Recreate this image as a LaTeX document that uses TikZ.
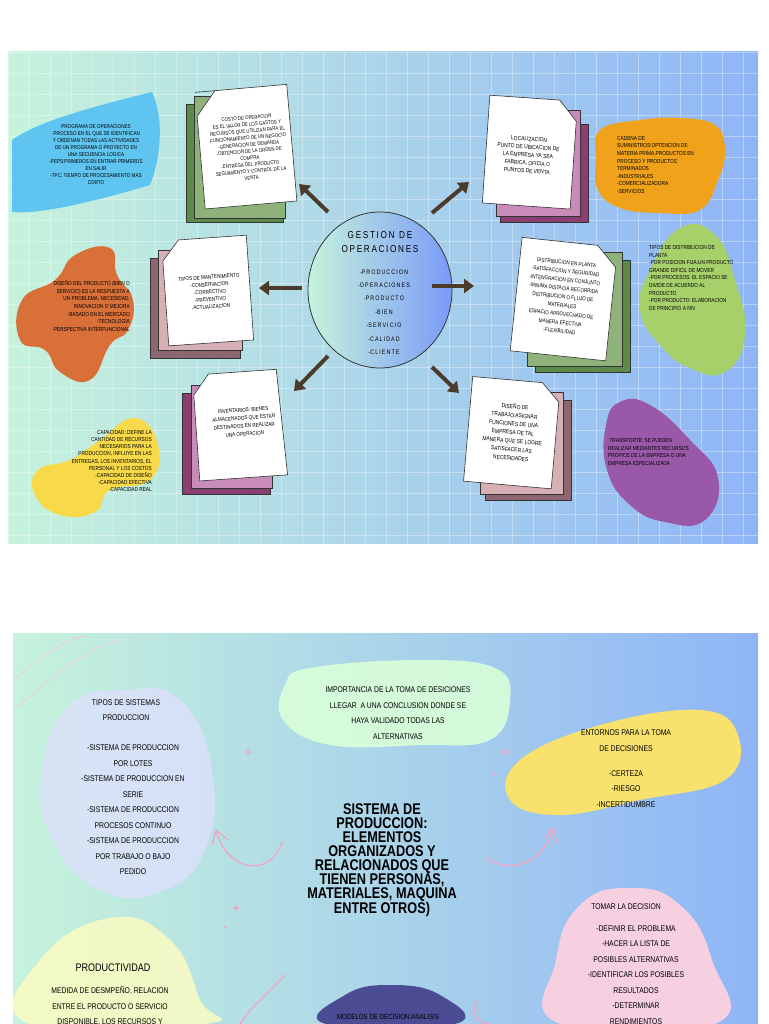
\documentclass[tikz,border=0pt]{standalone}
\usepackage{fontspec}
\setmainfont{Liberation Sans}[FakeStretch=0.82]
\usetikzlibrary{arrows.meta,shapes.geometric}
\definecolor{bgL}{HTML}{C6F3DC}
\definecolor{bgR}{HTML}{8FB5F7}
\definecolor{arr}{HTML}{4A3B2A}
\definecolor{dg}{HTML}{5B8A4A}
\definecolor{lg}{HTML}{8FB27A}
\definecolor{pk}{HTML}{C98BB8}
\definecolor{dp}{HTML}{8A3E72}
\definecolor{mv}{HTML}{8C6670}
\definecolor{lp}{HTML}{D6B0B4}
\definecolor{blb}{HTML}{5FC4F0}
\definecolor{org}{HTML}{D9703A}
\definecolor{yel}{HTML}{F7D949}
\definecolor{org2}{HTML}{F0A21A}
\definecolor{grn}{HTML}{A6D06A}
\definecolor{pur}{HTML}{9A58A8}
\definecolor{pk2}{HTML}{EEA7C8}
\tikzset{
  x=1pt,y=-1pt,
  tx/.style={font=\fontsize{5.6}{7.4}\selectfont,align=center,inner sep=0},
  bt/.style={font=\fontsize{8.3}{15.5}\selectfont,align=center,inner sep=0},
  sheet/.style={draw=black!80,line width=0.6pt},
  bigarrow/.style={draw=arr,line width=4pt,-{Triangle[length=10pt,width=14pt]}},
  deco/.style={draw=pk2,line width=1.4pt,line cap=round}
}
\begin{document}
\begin{tikzpicture}
\useasboundingbox (0,0) rectangle (768,1024);
\fill[white] (0,0) rectangle (768,1024);
% panel 1
\shade[left color=bgL,right color=bgR] (8,52) rectangle (758,543);
\foreach \i in {0,...,35} \draw[white,opacity=0.35,line width=0.5pt] (8+21*\i,52) -- (8+21*\i,543);
\foreach \j in {0,...,23} \draw[white,opacity=0.35,line width=0.5pt] (8,52+21*\j) -- (758,52+21*\j);
% blobs
\fill[blb] (12,140) .. controls (40,120) and (100,105) .. (152,92) .. controls (165,120) and (160,160) .. (150,185) .. controls (100,200) and (40,215) .. (12,212) -- cycle;
\fill[org] plot[smooth cycle,tension=0.8] coordinates {(75,255) (110,248) (117,275) (133,300) (128,330) (110,345) (90,380) (60,372) (45,350) (20,340) (22,300) (55,280)};
\fill[yel] plot[smooth cycle,tension=0.8] coordinates {(100,440) (135,418) (158,445) (150,480) (110,490) (95,512) (60,515) (35,495) (38,470) (70,460)};
\fill[org2] plot[smooth cycle,tension=0.7] coordinates {(600,130) (640,120) (680,118) (715,125) (725,150) (718,180) (700,210) (660,213) (620,208) (598,190) (596,160)};
\fill[grn] plot[smooth cycle,tension=0.8] coordinates {(680,228) (715,235) (735,280) (745,335) (725,372) (690,368) (660,345) (640,310) (650,270)};
\fill[pur] plot[smooth cycle,tension=0.8] coordinates {(620,402) (650,405) (690,440) (718,478) (705,520) (665,522) (630,505) (607,470) (606,425)};
% center ellipse
\shade[left color=bgL,right color=bgR!85!blue,draw=black!80,line width=0.8pt] (380,290) ellipse [x radius=72,y radius=78];
\node (center) at (380,290) {};
\node[font=\fontsize{10}{14}\selectfont,align=center,inner sep=0] at (380,242) {G\,E\,S\,T\,I\,O\,N \ D\,E\\O\,P\,E\,R\,A\,C\,I\,O\,N\,E\,S};
\node[font=\fontsize{6.5}{13.4}\selectfont,align=center,inner sep=0] at (384,312) {-P\,R\,O\,D\,U\,C\,C\,I\,O\,N\\-O\,P\,E\,R\,A\,C\,I\,O\,N\,E\,S\\-P\,R\,O\,D\,U\,C\,T\,O\\-B\,I\,E\,N\\-S\,E\,R\,V\,I\,C\,I\,O\\-C\,A\,L\,I\,D\,A\,D\\-C\,L\,I\,E\,N\,T\,E};
% paper stacks
\fill[dg,sheet] (186,104) rectangle (283,222);
\fill[lg,sheet] (194,96) rectangle (285,218);
\fill[white,sheet,rotate around={5:(248,147)}] (200,88) -- (292,88) -- (292,205) -- (200,205) -- (200,112) -- (220,88);
\node[tx,font=\fontsize{5.3}{6.7}\selectfont,rotate=5] (p1) at (249,148) {COSTO DE OPERACION\\ES EL VALOR DE LOS GASTOS Y\\RECURSOS QUE UTILIZAN PARA EL\\FUNCIONAMIENTO DE UN NEGOCIO\\-GENERACION DE DEMANDA\\-OBTENCION DE LA ORDEN DE\\COMPRA\\-ENTREGA DEL PRODUCTO\\SEGUIMIENTO Y CONTROL DE LA\\VENTA};
\fill[dp,sheet] (500,124) rectangle (588,222);
\fill[pk,sheet] (496,110) rectangle (580,216);
\fill[white,sheet,rotate around={-4:(528,152)}] (486,98) -- (556,98) -- (574,118) -- (574,206) -- (486,206) -- cycle;
\node[tx,font=\fontsize{6}{8}\selectfont,rotate=-4] (p2) at (528,155) {LOCALIZACION\\PUNTO DE UBICACION DE\\LA EMPRESA YA SEA\\FABRICA, OFICIA O\\PUNTOS DE VENTA};
\fill[mv,sheet] (150,258) rectangle (240,358);
\fill[lp,sheet] (158,250) rectangle (242,350);
\fill[white,sheet,rotate around={4:(208,290)}] (182,238) -- (250,238) -- (250,343) -- (165,343) -- (165,258) -- cycle;
\node[tx,rotate=4] (p3) at (210,292) {TIPOS DE MANTENIMIENTO\\-CONSERVACION\\-CORRECTIVO\\-PREVENTIVO\\-ACTUALIZACION};
\fill[dg,sheet] (535,260) rectangle (630,372);
\fill[lg,sheet] (527,252) rectangle (622,366);
\fill[white,sheet,rotate around={-6:(563,298)}] (516,242) -- (592,242) -- (612,262) -- (612,356) -- (516,356) -- cycle;
\node[tx,font=\fontsize{5.6}{8.6}\selectfont,rotate=-6] (p4) at (563,297) {DISTRIBUCION EN PLANTA\\-SATISFACCION Y SEGURIDAD\\-INTENGRACION EN CONJUNTO\\-MINIMA DISTACIA RECORRIDA\\DISTRIBUCION O FLUJO DE\\MATERIALES\\ESPACIO APROVECHADO DE\\MANERA EFECTIVA\\-FLEXIBILIDAD};
\fill[dp,sheet] (182,393) rectangle (270,494);
\fill[pk,sheet] (191,385) rectangle (272,488);
\fill[white,sheet,rotate around={4:(240,425)}] (212,372) -- (280,372) -- (284,478) -- (196,478) -- (196,392) -- cycle;
\node[tx,font=\fontsize{5.6}{8}\selectfont,rotate=4] (p5) at (244,422) {INVENTARIOS: BIENES\\ALMACENADOS QUE ESTAN\\DESTINADOS EN REALIZAR\\UNA OPERACION};
\fill[mv,sheet] (485,400) rectangle (571,500);
\fill[lp,sheet] (480,392) rectangle (563,494);
\fill[white,sheet,rotate around={-5:(510,432)}] (468,380) -- (538,380) -- (556,398) -- (556,485) -- (468,485) -- cycle;
\node[tx,font=\fontsize{6}{8.6}\selectfont,rotate=-5] (p6) at (513,432) {DISEÑO DE\\TRABAJO:ASIGNAR\\FUNCIONES DE UNA\\EMPRESA DE TAL\\MANERA QUE SE LOGRE\\SATISFACER LAS\\NECESIDADES};
% arrows
\coordinate (a1s) at (328,212); \coordinate (a1e) at (299,184);
\coordinate (a2s) at (432,213); \coordinate (a2e) at (469,182);
\coordinate (a3s) at (302,288); \coordinate (a3e) at (259,288);
\coordinate (a4s) at (432,286); \coordinate (a4e) at (474,286);
\coordinate (a5s) at (328,356); \coordinate (a5e) at (294,391);
\coordinate (a6s) at (432,367); \coordinate (a6e) at (459,393);
\foreach \s/\e in {a1s/a1e,a2s/a2e,a3s/a3e,a4s/a4e,a5s/a5e,a6s/a6e} \draw[bigarrow] (\s) -- (\e);
% blob texts
\node[tx,font=\fontsize{5.6}{7}\selectfont] (t1) at (96,155) {PROGRAMA DE OPERACIONES\\-PROCESO EN EL QUE SE IDENTIFICAN\\Y ORDENAN TODAS LAS ACTIVIDADES\\DE UN PROGRAMA O PROYECTO EN\\UNA SECUENCIA LOGICA\\-PEPS:PRIMEROS EN ENTRAR PRIMEROS\\EN SALIR\\-TPC: TIEMPO DE PROCESAMIENTO MAS\\CORTO};
\node[tx,font=\fontsize{5.8}{7.6}\selectfont,align=right,anchor=east] (t2) at (130,306) {DISEÑO DEL PRODUCTO (BIEN O\\SERVICIO) ES LA RESPUESTA A\\UN PROBLEMA, NECESIDAD,\\INNOVACION O MEJORA\\-BASADO EN EL MERCADO\\-TECNOLOGIA\\-PERSPECTIVA INTERFUNCIONAL};
\node[tx,font=\fontsize{5.8}{7.2}\selectfont,align=right,anchor=east] (t3) at (152,461) {CAPACIDAD: DEFINE LA\\CANTIDAD DE RECURSOS\\NECESARIOS PARA LA\\PRODUCCION, INFLUYE EN LAS\\ENTREGAS, LOS INVENTARIOS, EL\\PERSONAL Y LOS COSTOS\\-CAPACIDAD DE DISEÑO\\-CAPACIDAD EFECTIVA\\-CAPACIDAD REAL};
\node[tx,font=\fontsize{5.8}{7.6}\selectfont,align=left,anchor=west] (t4) at (617,165) {CADENA DE\\SUMINISTROS:OPTENCION DE\\MATERIA PRIMA,PRODUCTOS EN\\PROCESO Y PRODUCTOS\\TERMINADOS\\-INDUSTRIALES\\-COMERCIALIZADORA\\-SERVICIOS};
\node[tx,font=\fontsize{5.8}{7.6}\selectfont,align=left,anchor=west] (t5) at (649,278) {TIPOS DE DISTRIBUCION DE\\PLANTA\\-POR POSICION FIJA:UN PRODUCTO\\GRANDE DIFICIL DE MOVER\\-POR PROCESOS: EL ESPACIO SE\\DIVIDE DE ACUERDO AL\\PRODUCTO\\-POR PRODUCTO: ELABORACION\\DE PRINCIPIO A FIN};
\node[tx,font=\fontsize{5.8}{7.6}\selectfont,align=left,anchor=west] (t6) at (608,452) {\ TRANSPORTE: SE PUEDEN\\REALIZAR MEDIANTES RECURSOS\\PROPIOS DE LA EMPRESA O UNA\\EMPRESA ESPECIALIZADA};
% panel 2
\shade[left color=bgL,right color=bgR] (13,633) rectangle (758,1024);
\draw[pk2!60,line width=0.8pt] (13,680) .. controls (40,660) and (60,640) .. (85,636);
\draw[pk2!60,line width=0.8pt] (13,710) .. controls (50,680) and (80,650) .. (120,640);
\fill[blue!12!white,opacity=0.75] plot[smooth cycle,tension=0.8] coordinates {(125,690) (180,700) (212,770) (205,850) (160,892) (100,890) (52,840) (42,770) (70,705)};
\fill[yellow!25!white,opacity=0.8] plot[smooth cycle,tension=0.8] coordinates {(110,918) (170,940) (200,1000) (205,1024) (30,1024) (40,960)};
\fill[green!15!white,opacity=0.9] plot[smooth cycle,tension=0.7] coordinates {(310,668) (420,660) (495,668) (510,700) (490,740) (420,745) (330,745) (283,720) (285,685)};
\fill[yel!80!white] plot[smooth cycle,tension=0.7] coordinates {(520,760) (600,725) (700,710) (738,735) (725,780) (640,800) (560,815) (510,800)};
\fill[pk2!55!white] plot[smooth cycle,tension=0.8] coordinates {(630,888) (680,905) (712,960) (715,1024) (560,1024) (556,960) (580,905)};
\fill[blue!40!black!70!white] plot[smooth cycle,tension=0.8] coordinates {(390,985) (440,995) (455,1024) (326,1024) (345,995)};
% decorations
\draw[deco] (282,842) .. controls (270,880) and (225,870) .. (216,830);
\draw[deco] (216,830) -- (212,845); \draw[deco] (216,830) -- (228,840);
\draw[deco] (486,858) .. controls (520,880) and (550,850) .. (553,828);
\draw[deco] (553,828) -- (545,838); \draw[deco] (553,828) -- (557,843);
\draw[deco] (285,975) .. controls (240,1020) and (250,1010) .. (240,1024);
\draw[deco] (478,1000) .. controls (470,1010) and (475,1024) .. (490,1024);
\foreach \x/\y/\r in {248/752/7,505/752/9,494/774/5,236/908/8,225/927/5}
  \fill[pk2] (\x,\y-\r) .. controls (\x,\y) .. (\x+\r,\y) .. controls (\x,\y) .. (\x,\y+\r) .. controls (\x,\y) .. (\x-\r,\y) .. controls (\x,\y) .. cycle;
% texts panel 2
\node[bt] (s1) at (126,710) {TIPOS DE SISTEMAS\\PRODUCCION};
\node[bt] (s2) at (133,810) {-SISTEMA DE PRODUCCION\\POR LOTES\\-SISTEMA DE PRODUCCION EN\\SERIE\\-SISTEMA DE PRODUCCION\\PROCESOS CONTINUO\\-SISTEMA DE PRODUCCION\\POR TRABAJO O BAJO\\PEDIDO};
\node[bt] (s3) at (398,713) {IMPORTANCIA DE LA TOMA DE DESICIONES\\LLEGAR \ A UNA CONCLUSION DONDE SE\\HAYA VALIDADO TODAS LAS\\ALTERNATIVAS};
\node[bt,font=\fontsize{8.3}{16}\selectfont] (s4) at (626,741) {ENTORNOS PARA LA TOMA\\DE DECISIONES};
\node[bt] (s5) at (626,789) {-CERTEZA\\-RIESGO\\-INCERTIDUMBRE};
\node[font=\fontsize{15.5}{14}\selectfont\bfseries,align=center,inner sep=0] (s6) at (382,860) {SISTEMA DE\\PRODUCCION:\\ELEMENTOS\\ORGANIZADOS Y\\RELACIONADOS QUE\\TIENEN PERSONAS,\\MATERIALES, MAQUINA\\ENTRE OTROS)};
\node[bt] (s7) at (626,907) {TOMAR LA DECISION};
\node[bt] (s8) at (636,975) {-DEFINIR EL PROBLEMA\\-HACER LA LISTA DE\\POSIBLES ALTERNATIVAS\\-IDENTIFICAR LOS POSIBLES\\RESULTADOS\\-DETERMINAR\\RENDIMIENTOS};
\node[font=\fontsize{11}{13}\selectfont,inner sep=0] (s9) at (113,968) {PRODUCTIVIDAD};
\node[bt] (s10) at (110,1006) {MEDIDA DE DESMPEÑO, RELACION\\ENTRE EL PRODUCTO O SERVICIO\\DISPONIBLE, LOS RECURSOS Y};
\node[bt,font=\fontsize{7.5}{9}\selectfont] (s11) at (388,1017) {MODELOS DE DECISION:ANALISIS};
\end{tikzpicture}
\end{document}
